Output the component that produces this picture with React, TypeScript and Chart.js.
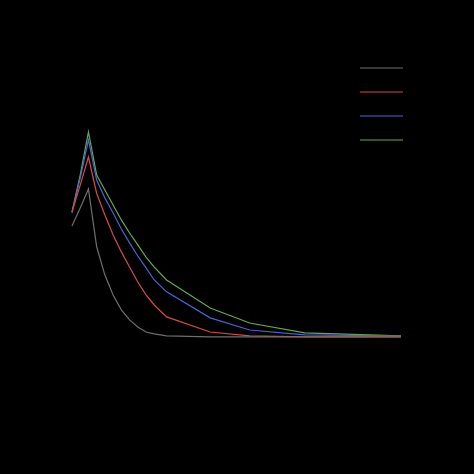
import { Chart, registerables } from 'chart.js';
import type { Plugin } from 'chart.js';
import { useEffect, useRef } from 'react';

Chart.register(...registerables);

// x positions of the samples
const xValues = [0, 1, 2, 3, 4, 5, 6, 7, 8, 9, 10, 11.5, 16.8, 21.6, 28.3, 40];

const seriesLabels = ['Series 1', 'Series 2', 'Series 3', 'Series 4'];
const seriesColors = ['#6e6e6e', '#d84a4a', '#4a66cc', '#66a856'];

const graySeries = [0.541, 0.629, 0.722, 0.44, 0.302, 0.205, 0.132, 0.083, 0.049, 0.024, 0.015, 0.005, 0, 0, 0, 0];
const redSeries = [0.61, 0.741, 0.878, 0.7, 0.595, 0.498, 0.415, 0.341, 0.268, 0.205, 0.156, 0.098, 0.024, 0.005, 0, 0];
const blueSeries = [0.605, 0.776, 0.961, 0.766, 0.678, 0.605, 0.527, 0.459, 0.395, 0.337, 0.278, 0.22, 0.093, 0.034, 0.01, 0.005];
const greenSeries = [0.61, 0.79, 1.0, 0.79, 0.717, 0.644, 0.571, 0.507, 0.449, 0.39, 0.341, 0.278, 0.141, 0.068, 0.02, 0.005];

const allSeries = [graySeries, redSeries, blueSeries, greenSeries];

// legend drawn as short line samples in the upper right of the plot area
const lineLegend: Plugin<'line'> = {
	id: 'lineLegend',
	afterDraw(chart) {
		const { ctx, chartArea } = chart;
		const x0 = chartArea.right - 67;
		const x1 = chartArea.right - 24;
		ctx.save();
		chart.data.datasets.forEach((ds, i) => {
			const y = chartArea.top + 11 + i * 24;
			ctx.strokeStyle = ds.borderColor as string;
			ctx.lineWidth = 1.2;
			ctx.beginPath();
			ctx.moveTo(x0, y);
			ctx.lineTo(x1, y);
			ctx.stroke();
			ctx.fillStyle = '#000';
			ctx.font = '12px "DejaVu Sans"';
			ctx.textBaseline = 'middle';
			ctx.fillText(ds.label ?? '', x1 + 8, y);
		});
		ctx.restore();
	},
};

function App() {
	const chartRef = useRef<HTMLCanvasElement | null>(null);

	useEffect(() => {
		if (!chartRef.current) return;

		const chart = new Chart(chartRef.current, {
			type: 'line',
			data: {
				datasets: allSeries.map((values, i) => ({
					label: seriesLabels[i],
					data: values.map((v, j) => ({ x: xValues[j], y: v })),
					borderColor: seriesColors[i],
					backgroundColor: seriesColors[i],
					borderWidth: 1.2,
					pointRadius: 0,
					tension: 0,
					fill: false,
				})),
			},
			options: {
				animation: false,
				responsive: false,
				maintainAspectRatio: false,
				layout: {
					padding: { left: 59, right: 47, top: 57, bottom: 52 },
				},
				plugins: {
					legend: { display: false },
					tooltip: { enabled: false },
				},
				scales: {
					x: {
						type: 'linear',
						display: false,
						min: -1.58,
						max: 43.16,
					},
					y: {
						display: false,
						min: -0.415,
						max: 1.366,
					},
				},
			},
			plugins: [lineLegend],
		});

		return () => {
			chart.destroy();
		};
	}, []);

	return (
		<div style={{ position: 'fixed', top: 0, left: 0, width: '474px', height: '474px', background: '#000' }}>
			<canvas ref={chartRef} width={474} height={474} style={{ width: '474px', height: '474px' }}></canvas>
		</div>
	);
}

export default App;
